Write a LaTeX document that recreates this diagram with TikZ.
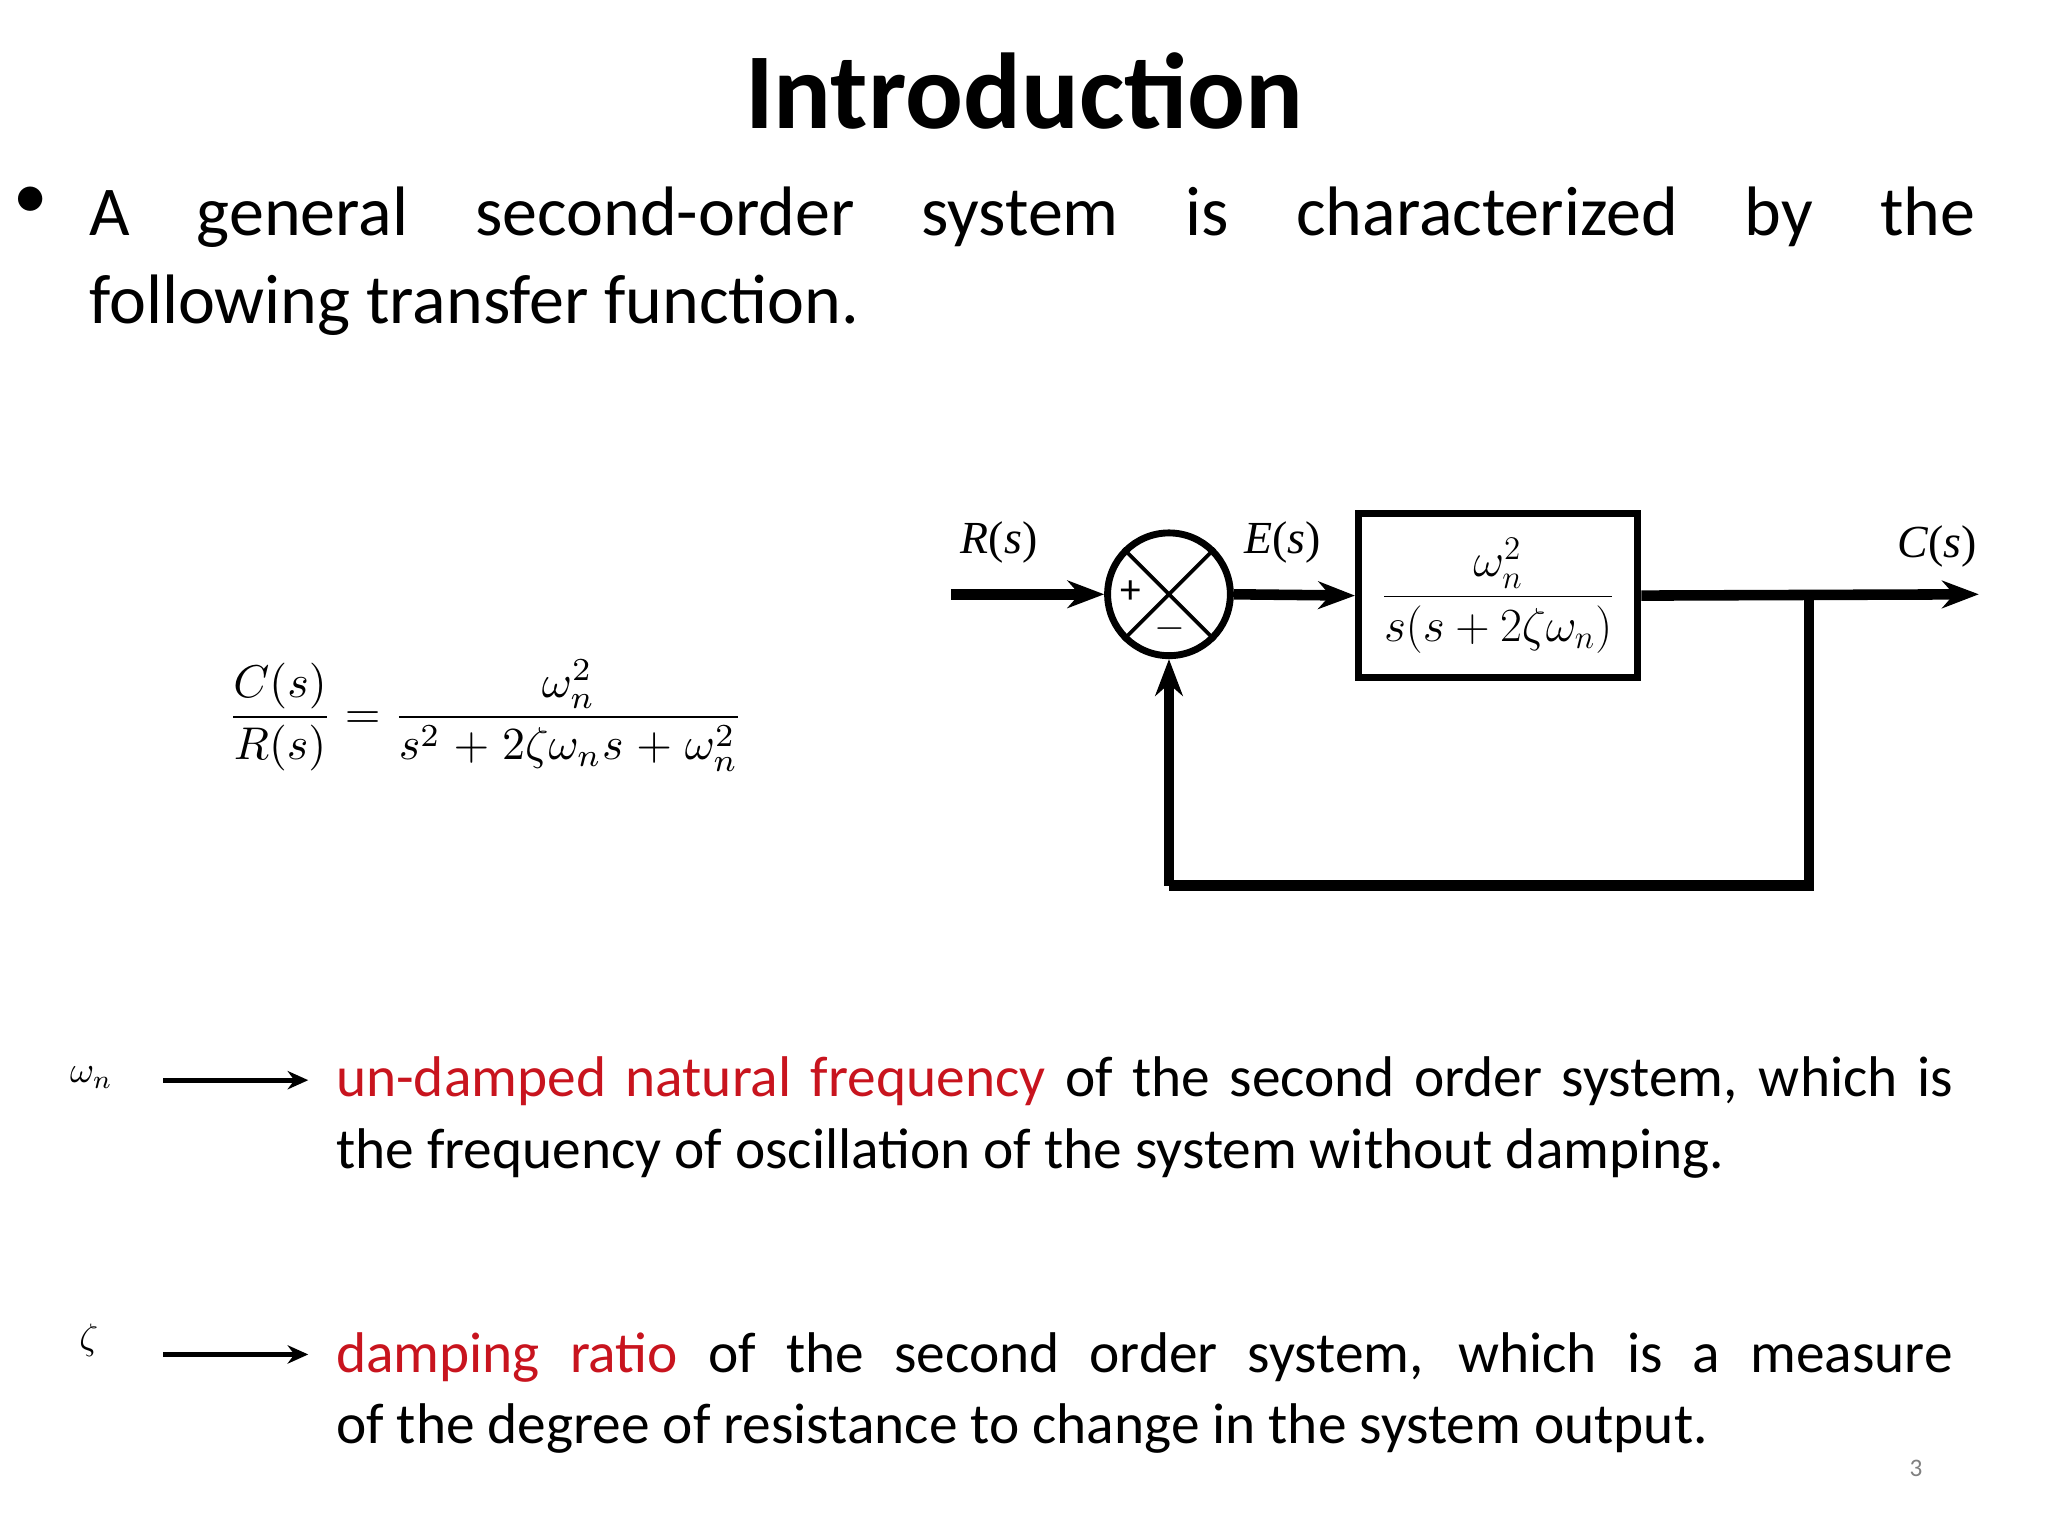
\documentclass[tikz,border=0pt]{standalone}
\usepackage{fontspec}
\setmainfont{Carlito}
\newfontfamily\tms{Liberation Serif}
\usetikzlibrary{arrows.meta}
\hyphenpenalty=10000
\begin{document}
\begin{tikzpicture}[x=0.02cm,y=-0.02cm,
  thk/.style={line width=4.6pt},
  arr/.style={thk,-{Stealth[length=16pt,width=12pt]}},
  lbl/.style={font=\fontsize{20}{24}\selectfont\tms, inner sep=0},
  body/.style={font=\fontsize{25}{31}\selectfont, anchor=north west, inner sep=0, text width=24.76cm, align=justify},
  small/.style={line width=2.2pt,-{Stealth[length=9pt,width=8pt]}}]
\useasboundingbox (0,0) rectangle (1568,1176);
\node[font=\fontsize{47}{52}\selectfont\bfseries] (title) at (784,70) {Introduction};
\node[font=\fontsize{30}{38}\selectfont, anchor=north west, inner sep=0] (bul) at (10,143) {•};
\node[font=\fontsize{30.5}{38}\selectfont, anchor=north west, inner sep=0, text width=28.88cm, align=justify] (intro) at (68,143)
 {A general second-order system is characterized by the\linebreak following transfer function.};
% equation
\node[scale=2.0] (eq) at (372,548)
 {$\displaystyle \frac{C(s)}{R(s)}=\frac{\omega_n^2}{s^2\;\mathbf{+}\;2\zeta\omega_n s\;\mathbf{+}\;\omega_n^2}$};
% block diagram
\coordinate (in) at (728,455);
\node[draw, line width=3pt, circle, minimum size=1.88cm, inner sep=0] (sum) at (895,455) {};
\draw[line width=1.6pt] (sum.north west) -- (sum.south east) (sum.north east) -- (sum.south west);
\node[font=\fontsize{18}{20}\selectfont] (plus) at (866,453) {+};
\node[font=\fontsize{18}{20}\selectfont] (minus) at (896,481) {$-$};
\node[draw, line width=3pt, minimum width=4.28cm, minimum height=2.52cm, inner sep=0] (G) at (1147,456)
 {\fontsize{20}{24}\selectfont $\displaystyle\frac{\omega_n^2}{s(s+2\zeta\omega_n)}$};
\coordinate (out) at (1515,455);
\coordinate (br) at (1385,455);
\coordinate (c1) at (1385,678);
\coordinate (c2) at (895,678);
\draw[arr] (in) -- (sum.west);
\draw[arr] (sum.east) -- (G.west);
\draw[arr] (G.east) -- (out);
\draw[thk] (br) -- (c1) -- (c2);
\draw[arr] (c2) -- (sum.south);
\node[lbl] (R) at (765,415) {\textit{R}(\textit{s})};
\node[lbl] (E) at (982,415) {\textit{E}(\textit{s})};
\node[lbl] (C) at (1483,418) {\textit{C}(\textit{s})};
% definitions
\node[scale=1.6] (wn) at (70,825) {$\omega_n$};
\coordinate (a1) at (125,827); \coordinate (b1) at (236,827);
\draw[small] (a1) -- (b1);
\node[body] (t1) at (257,809) {\textcolor[RGB]{200,20,30}{un-damped natural frequency} of the second order system, which is\linebreak the frequency of oscillation of the system without damping.};
\node[scale=1.6] (ze) at (68,1026) {$\zeta$};
\coordinate (a2) at (125,1037); \coordinate (b2) at (236,1037);
\draw[small] (a2) -- (b2);
\node[body] (t2) at (257,1020) {\textcolor[RGB]{200,20,30}{damping ratio} of the second order system, which is a measure\linebreak of the degree of resistance to change in the system output.};
\node[font=\fontsize{11}{13}\selectfont, text=gray] (pg) at (1467,1124) {3};
\end{tikzpicture}
\end{document}
